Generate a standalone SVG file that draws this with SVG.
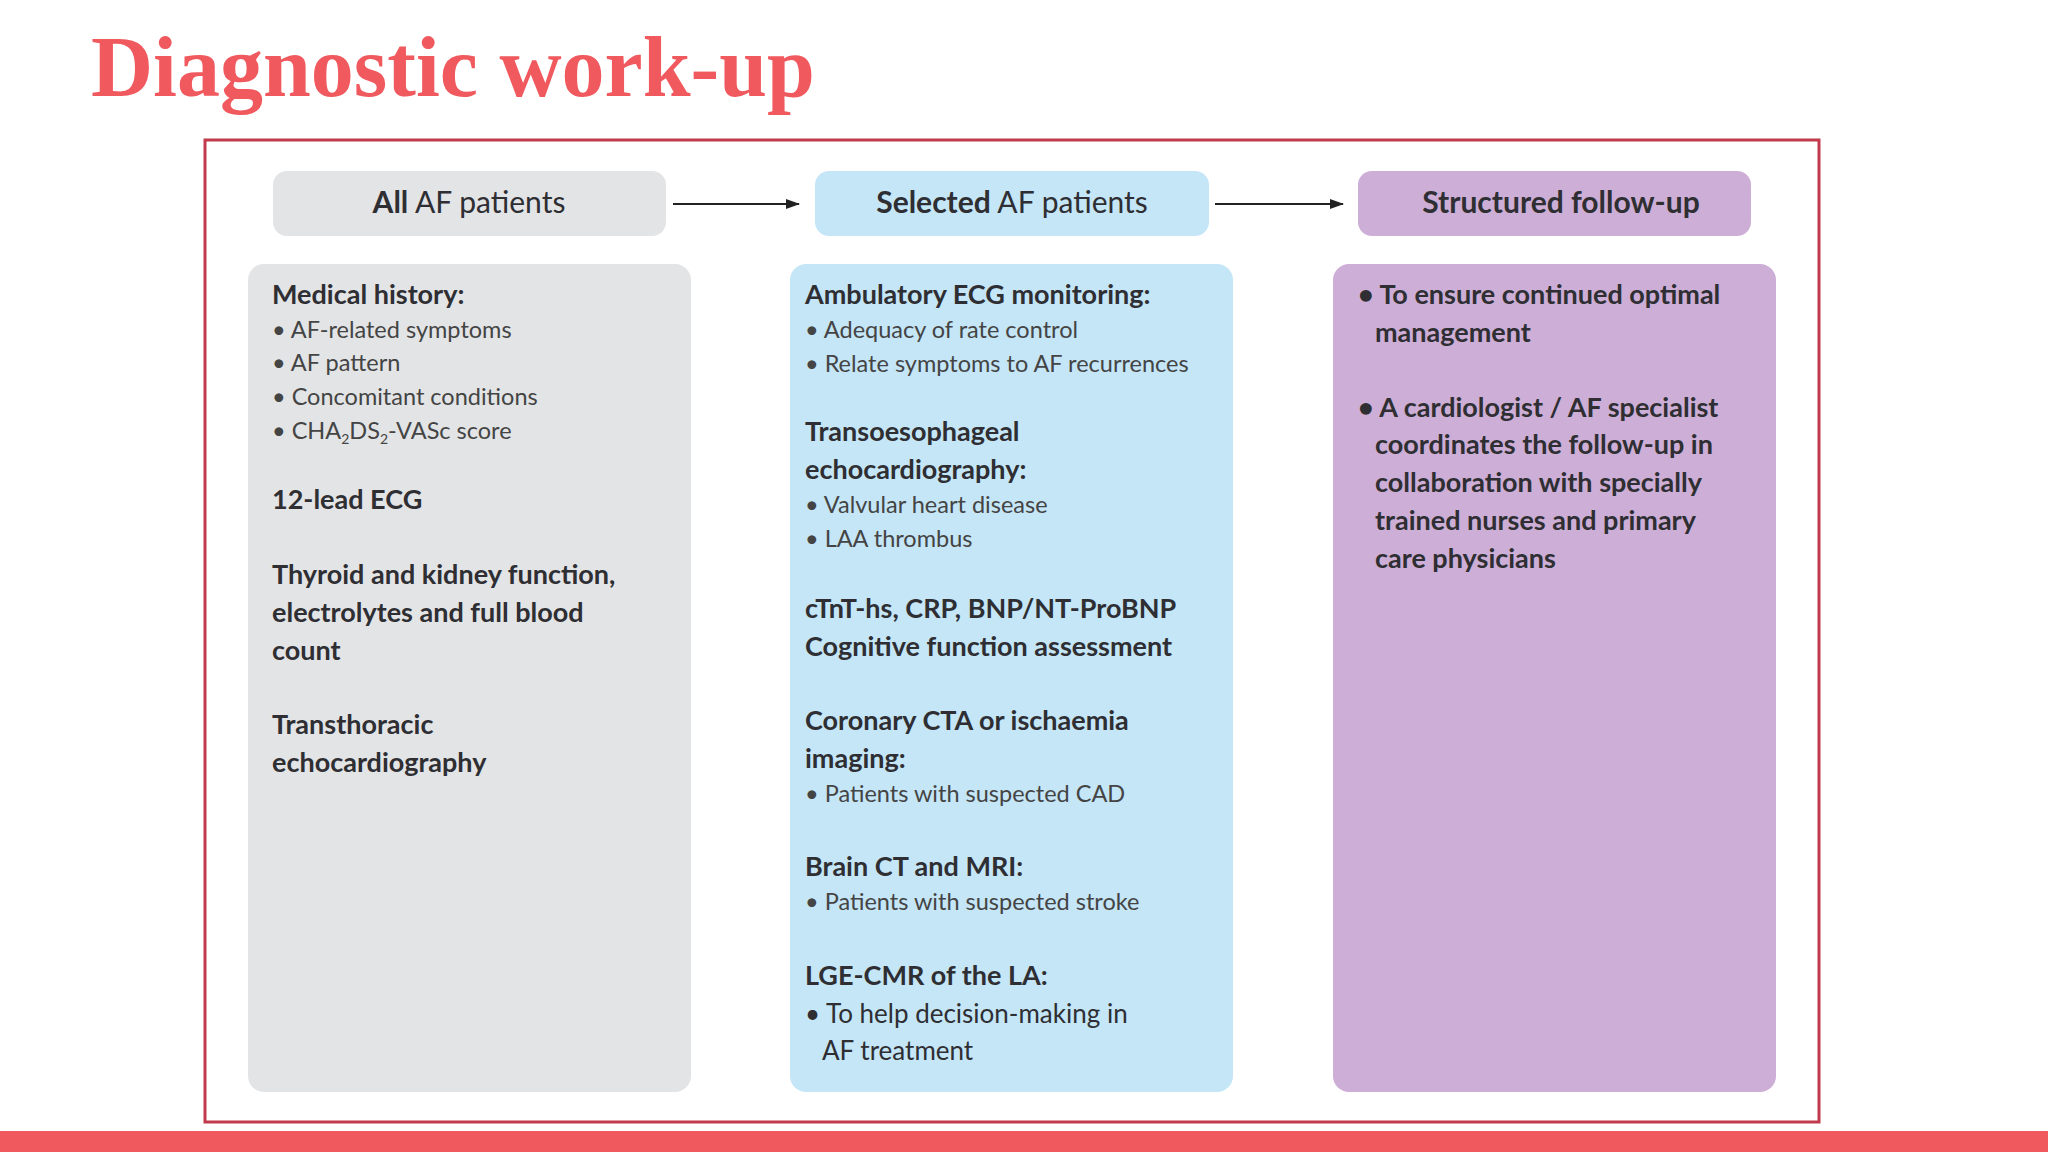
<svg xmlns="http://www.w3.org/2000/svg" width="2048" height="1152" viewBox="0 0 2048 1152">
<defs>
<style>
text{font-family:Lato,"Open Sans","Liberation Sans",sans-serif;fill:#2e2e33}
.b{font-weight:bold;font-size:27px}
.s{font-size:23.5px;fill:#444}
.m{font-size:26px}
.h{font-size:30px;text-anchor:middle}
.c{stroke:#222;stroke-width:2;fill:none}
</style>
<marker id="ah" markerWidth="14" markerHeight="10" refX="13" refY="5" orient="auto" markerUnits="userSpaceOnUse"><path d="M0,0 L14,5 L0,10 Z" fill="#222"/></marker>
</defs>
<rect width="2048" height="1152" fill="#fff"/>
<text x="91" y="96" style="font-family:'Liberation Serif',serif;font-weight:bold;font-size:86px;fill:#f0595e">Diagnostic work-up</text>
<rect x="205" y="140" width="1614" height="982" fill="none" stroke="#c23a4b" stroke-width="3"/>
<rect x="0" y="1131" width="2048" height="21" fill="#f0595e"/>
<g id="connectors">
<line class="c" x1="673" y1="204" x2="799" y2="204" marker-end="url(#ah)"/>
<line class="c" x1="1215" y1="204" x2="1343" y2="204" marker-end="url(#ah)"/>
</g>
<g id="h1"><rect x="273" y="171" width="393" height="65" rx="14" fill="#e3e4e6"/><text class="h" x="469" y="213"><tspan font-weight="bold">All</tspan> AF patients</text></g>
<g id="h2"><rect x="815" y="171" width="394" height="65" rx="14" fill="#c4e6f7"/><text class="h" x="1012" y="213"><tspan font-weight="bold">Selected</tspan> AF patients</text></g>
<g id="h3"><rect x="1358" y="171" width="393" height="65" rx="14" fill="#cdaed6"/><text class="h" x="1561" y="213" font-weight="bold">Structured follow-up</text></g>
<g id="c1"><rect x="248" y="264" width="443" height="828" rx="16" fill="#e3e4e6"/>
<text class="b" x="272" y="304">Medical history:</text>
<text class="s" x="272" y="338">• AF-related symptoms</text>
<text class="s" x="272" y="371">• AF pattern</text>
<text class="s" x="272" y="405">• Concomitant conditions</text>
<text class="s" x="272" y="439">• CHA<tspan font-size="14" dy="5">2</tspan><tspan dy="-5">DS</tspan><tspan font-size="14" dy="5">2</tspan><tspan dy="-5">-VASc score</tspan></text>
<text class="b" x="272" y="509">12-lead ECG</text>
<text class="b" x="272" y="584">Thyroid and kidney function,</text>
<text class="b" x="272" y="622">electrolytes and full blood</text>
<text class="b" x="272" y="660">count</text>
<text class="b" x="272" y="734">Transthoracic</text>
<text class="b" x="272" y="772">echocardiography</text>
</g>
<g id="c2"><rect x="790" y="264" width="443" height="828" rx="16" fill="#c4e6f7"/>
<text class="b" x="805" y="304">Ambulatory ECG monitoring:</text>
<text class="s" x="805" y="338">• Adequacy of rate control</text>
<text class="s" x="805" y="372">• Relate symptoms to AF recurrences</text>
<text class="b" x="805" y="441">Transoesophageal</text>
<text class="b" x="805" y="479">echocardiography:</text>
<text class="s" x="805" y="513">• Valvular heart disease</text>
<text class="s" x="805" y="547">• LAA thrombus</text>
<text class="b" x="805" y="618">cTnT-hs, CRP, BNP/NT-ProBNP</text>
<text class="b" x="805" y="656">Cognitive function assessment</text>
<text class="b" x="805" y="730">Coronary CTA or ischaemia</text>
<text class="b" x="805" y="768">imaging:</text>
<text class="s" x="805" y="802">• Patients with suspected CAD</text>
<text class="b" x="805" y="876">Brain CT and MRI:</text>
<text class="s" x="805" y="910">• Patients with suspected stroke</text>
<text class="b" x="805" y="985">LGE-CMR of the LA:</text>
<text class="m" x="805" y="1023">• To help decision-making in</text>
<text class="m" x="822" y="1060">AF treatment</text>
</g>
<g id="c3"><rect x="1333" y="264" width="443" height="828" rx="16" fill="#cdaed6"/>
<text class="b" x="1358" y="304">• To ensure continued optimal</text>
<text class="b" x="1375" y="342">management</text>
<text class="b" x="1358" y="417">• A cardiologist / AF specialist</text>
<text class="b" x="1375" y="454">coordinates the follow-up in</text>
<text class="b" x="1375" y="492">collaboration with specially</text>
<text class="b" x="1375" y="530">trained nurses and primary</text>
<text class="b" x="1375" y="568">care physicians</text>
</g>
</svg>
